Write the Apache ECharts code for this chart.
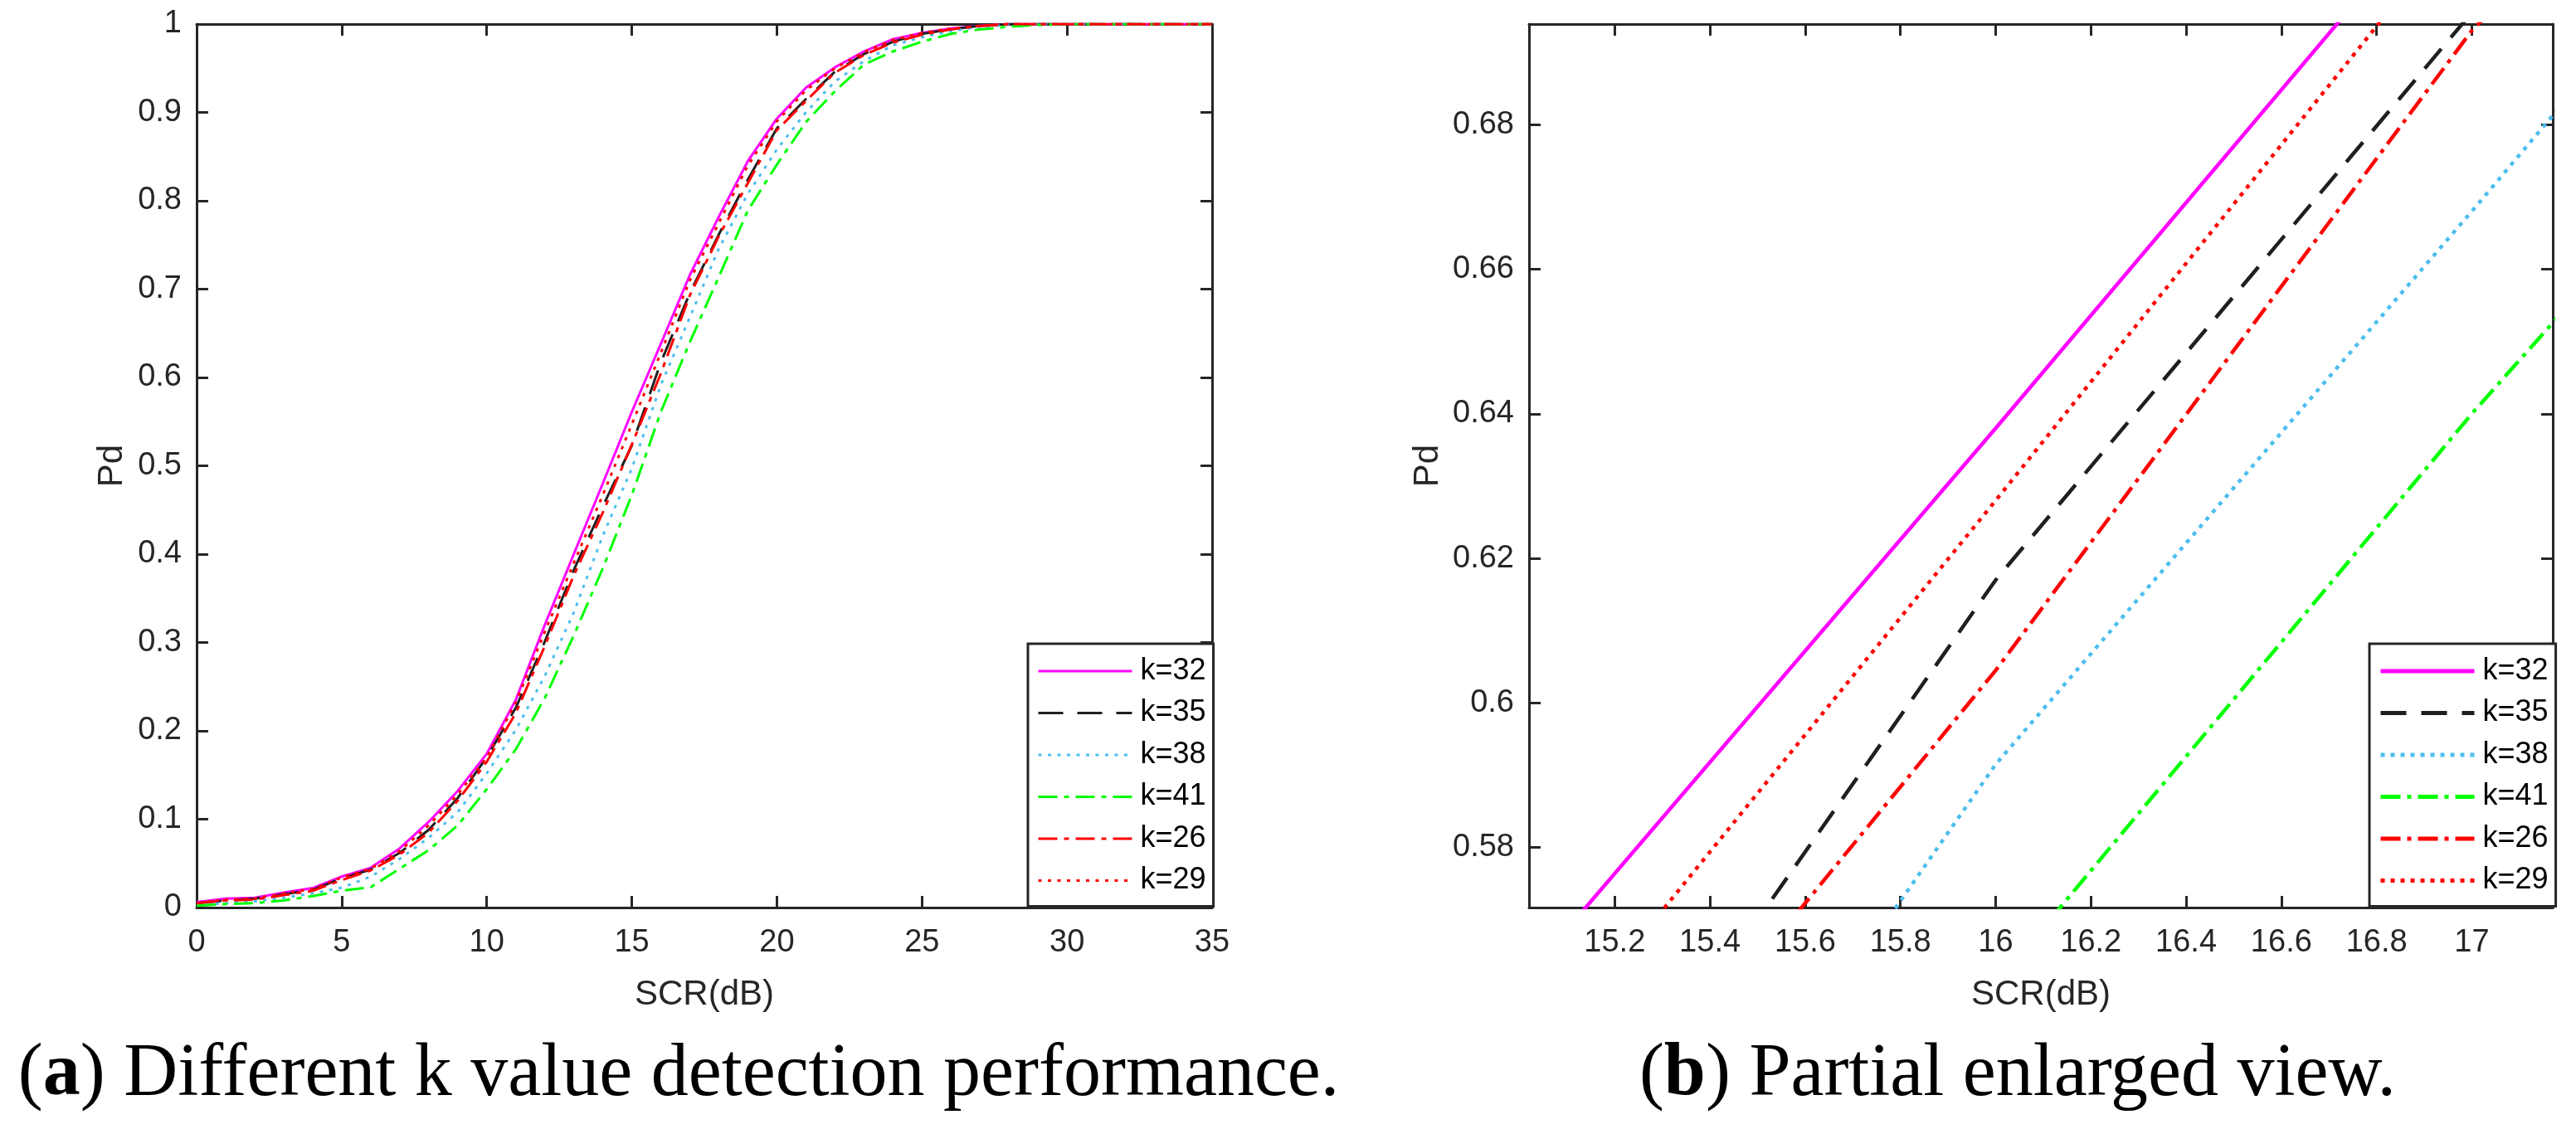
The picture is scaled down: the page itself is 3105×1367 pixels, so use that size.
<!DOCTYPE html>
<html>
<head>
<meta charset="utf-8">
<script src="https://cdn.jsdelivr.net/npm/echarts@6/dist/echarts.min.js"></script>
<style>
  html, body { margin: 0; padding: 0; background: #fff; }
  #main { width: 3105px; height: 1367px; }
</style>
</head>
<body>
<div id="main"></div>
<script>
// SCR (dB) sample points
const scr = [0, 1, 2, 3, 4, 5, 6, 7, 8, 9, 10, 11, 12, 13, 14, 15, 16, 17,
             18, 19, 20, 21, 22, 23, 24, 25, 26, 27, 28, 29, 30, 31, 32, 33, 34, 35];

// Pd curves, one per k
const pdK32 = [0.006, 0.010, 0.011, 0.017, 0.022, 0.035, 0.045, 0.067, 0.097, 0.132, 0.174, 0.235,
               0.320, 0.400, 0.480, 0.561, 0.638, 0.716, 0.782, 0.845, 0.893, 0.928, 0.951, 0.969,
               0.983, 0.990, 0.995, 0.998, 1, 1, 1, 1, 1, 1, 1, 1];
const pdK35 = [0.005, 0.008, 0.010, 0.015, 0.020, 0.033, 0.043, 0.062, 0.088, 0.124, 0.170, 0.226,
               0.301, 0.382, 0.454, 0.523, 0.617, 0.6955, 0.762, 0.824, 0.882, 0.915, 0.946, 0.966,
               0.980, 0.989, 0.994, 0.998, 1, 1, 1, 1, 1, 1, 1, 1];
const pdK38 = [0.003, 0.005, 0.007, 0.011, 0.016, 0.0225, 0.035, 0.055, 0.079, 0.108, 0.152, 0.201,
               0.262, 0.334, 0.421, 0.497, 0.5915, 0.668, 0.746, 0.808, 0.858, 0.900, 0.935, 0.958,
               0.976, 0.985, 0.992, 0.997, 0.999, 1, 1, 1, 1, 1, 1, 1];
const pdK41 = [0.002, 0.004, 0.005, 0.008, 0.013, 0.019, 0.023, 0.044, 0.065, 0.093, 0.134, 0.179,
               0.237, 0.308, 0.384, 0.467, 0.561, 0.640, 0.714, 0.789, 0.841, 0.889, 0.924, 0.954,
               0.969, 0.980, 0.989, 0.994, 0.997, 0.999, 1, 1, 1, 1, 1, 1];
const pdK26 = [0.005, 0.008, 0.009, 0.014, 0.019, 0.031, 0.042, 0.060, 0.085, 0.121, 0.165, 0.220,
               0.296, 0.376, 0.447, 0.524, 0.6045, 0.693, 0.760, 0.820, 0.880, 0.913, 0.945, 0.965,
               0.979, 0.988, 0.994, 0.998, 1, 1, 1, 1, 1, 1, 1, 1];
const pdK29 = [0.005, 0.009, 0.010, 0.016, 0.021, 0.034, 0.044, 0.064, 0.093, 0.128, 0.170, 0.232,
               0.312, 0.390, 0.467, 0.547, 0.628, 0.710, 0.775, 0.840, 0.890, 0.925, 0.950, 0.968,
               0.982, 0.990, 0.995, 0.998, 1, 1, 1, 1, 1, 1, 1, 1];

const seriesNames = ['k=32', 'k=35', 'k=38', 'k=41', 'k=26', 'k=29'];

// axis ranges and tick labels
const xRangeA = [0, 35];
const yRangeA = [0, 1];
const xTicksA = [0, 5, 10, 15, 20, 25, 30, 35];
const yTicksA = [0, 0.1, 0.2, 0.3, 0.4, 0.5, 0.6, 0.7, 0.8, 0.9, 1];
const xRangeB = [15.02, 17.17];
const yRangeB = [0.5717, 0.6939];
const xTicksB = [15.2, 15.4, 15.6, 15.8, 16, 16.2, 16.4, 16.6, 16.8, 17];
const yTicksB = [0.58, 0.60, 0.62, 0.64, 0.66, 0.68];

const captionA = 'Different k value detection performance.';
const captionB = 'Partial enlarged view.';

const AX = '#262626';
const FONT = '"Liberation Sans", Arial, sans-serif';
const SERIF = '"Liberation Serif", serif';

function fmt(v) {
    return String(+(+v).toFixed(2));
}

// one axis; "main" axes carry labels, mirror axes only ticks (matlab box)
function makeAxis(pos, grid, range, ticks, main, name, gap) {
    return {
        type: 'value',
        gridIndex: grid,
        position: pos,
        min: range[0],
        max: range[1],
        axisLine: { show: true, onZero: false, lineStyle: { color: AX, width: 3 } },
        axisTick: { show: true, inside: true, length: 14, customValues: ticks,
                    lineStyle: { color: AX, width: 3 } },
        axisLabel: main ? {
            show: true, customValues: ticks, formatter: fmt,
            color: AX, fontSize: 38, fontFamily: FONT,
            margin: (pos === 'bottom') ? 24 : 18
        } : { show: false },
        splitLine: { show: false },
        name: main ? name : '',
        nameLocation: 'middle',
        nameGap: gap || 0,
        nameTextStyle: { color: AX, fontSize: 42, fontFamily: FONT }
    };
}

const pdData = [pdK32, pdK35, pdK38, pdK41, pdK26, pdK29];
const colors = ['#ff00ff', '#1f1f1f', '#4dbeee', '#00ff00', '#ff0000', '#ff0000'];
const dashA = ['solid', [30, 17], [4, 7.5], [23, 8, 6, 8], [23, 8, 6, 8], [4, 7.5]];
const dashB = ['solid', [31, 18], [5, 7], [24, 8, 5, 8], [24, 8, 5, 8], [5, 7]];

const series = [];
pdData.forEach(function (arr, i) {
    series.push({
        type: 'line', name: seriesNames[i],
        xAxisIndex: 0, yAxisIndex: 0,
        data: scr.map(function (x, j) { return [x, arr[j]]; }),
        symbol: 'none', clip: true, animation: false,
        lineStyle: { color: colors[i], width: 3, type: dashA[i], cap: 'butt' },
        itemStyle: { color: colors[i] }
    });
});
pdData.forEach(function (arr, i) {
    series.push({
        type: 'line', name: seriesNames[i] + ' ',
        xAxisIndex: 2, yAxisIndex: 2,
        data: scr.map(function (x, j) { return [x, arr[j]]; }),
        symbol: 'none', clip: true, animation: false,
        lineStyle: { color: colors[i], width: 4.5, type: dashB[i], cap: 'butt' },
        itemStyle: { color: colors[i] }
    });
});

function legendAt(left, names, lw) {
    return {
        data: names,
        orient: 'vertical',
        left: left,
        top: 776,
        itemWidth: 113,
        itemHeight: 20,
        itemGap: 14.5,
        padding: [15, 9, 13, 11],
        backgroundColor: '#fff',
        borderColor: AX,
        borderWidth: 3,
        borderRadius: 0,
        selectedMode: false,
        itemStyle: { opacity: 0 },
        lineStyle: { width: lw },
        formatter: function (n) { return n.trim(); },
        textStyle: { color: '#000', fontSize: 36, fontFamily: FONT, padding: [0, 0, 0, 5] }
    };
}

function caption(x, tag, text) {
    return {
        type: 'text', x: x, y: 1296,
        style: {
            text: '{n|(}{b|' + tag + '}{n|) ' + text + '}',
            align: 'center', verticalAlign: 'middle',
            rich: {
                n: { fontFamily: SERIF, fontSize: 90, fill: '#000' },
                b: { fontFamily: SERIF, fontSize: 90, fontWeight: 'bold', fill: '#000' }
            }
        }
    };
}

const chart = echarts.init(document.getElementById('main'), null, { renderer: 'canvas' });

const option = {
    backgroundColor: '#fff',
    animation: false,
    grid: [
        { left: 237, top: 29, width: 1224, height: 1065, outerBoundsMode: 'none' },
        { left: 1843, top: 29, width: 1234, height: 1065, outerBoundsMode: 'none' }
    ],
    xAxis: [
        makeAxis('bottom', 0, xRangeA, xTicksA, true, 'SCR(dB)', 84),
        makeAxis('top', 0, xRangeA, xTicksA, false),
        makeAxis('bottom', 1, xRangeB, xTicksB, true, 'SCR(dB)', 84),
        makeAxis('top', 1, xRangeB, xTicksB, false)
    ],
    yAxis: [
        makeAxis('left', 0, yRangeA, yTicksA, true, 'Pd', 81),
        makeAxis('right', 0, yRangeA, yTicksA, false),
        makeAxis('left', 1, yRangeB, yTicksB, true, 'Pd', 101),
        makeAxis('right', 1, yRangeB, yTicksB, false)
    ],
    legend: [
        legendAt(1239, seriesNames, 3),
        legendAt(2856, seriesNames.map(function (n) { return n + ' '; }), 5)
    ],
    series: series,
    graphic: [
        caption(818, 'a', captionA),
        caption(2432, 'b', captionB)
    ]
};

chart.setOption(option);

window.addEventListener('resize', function () {
    chart.resize();
});
</script>
</body>
</html>
